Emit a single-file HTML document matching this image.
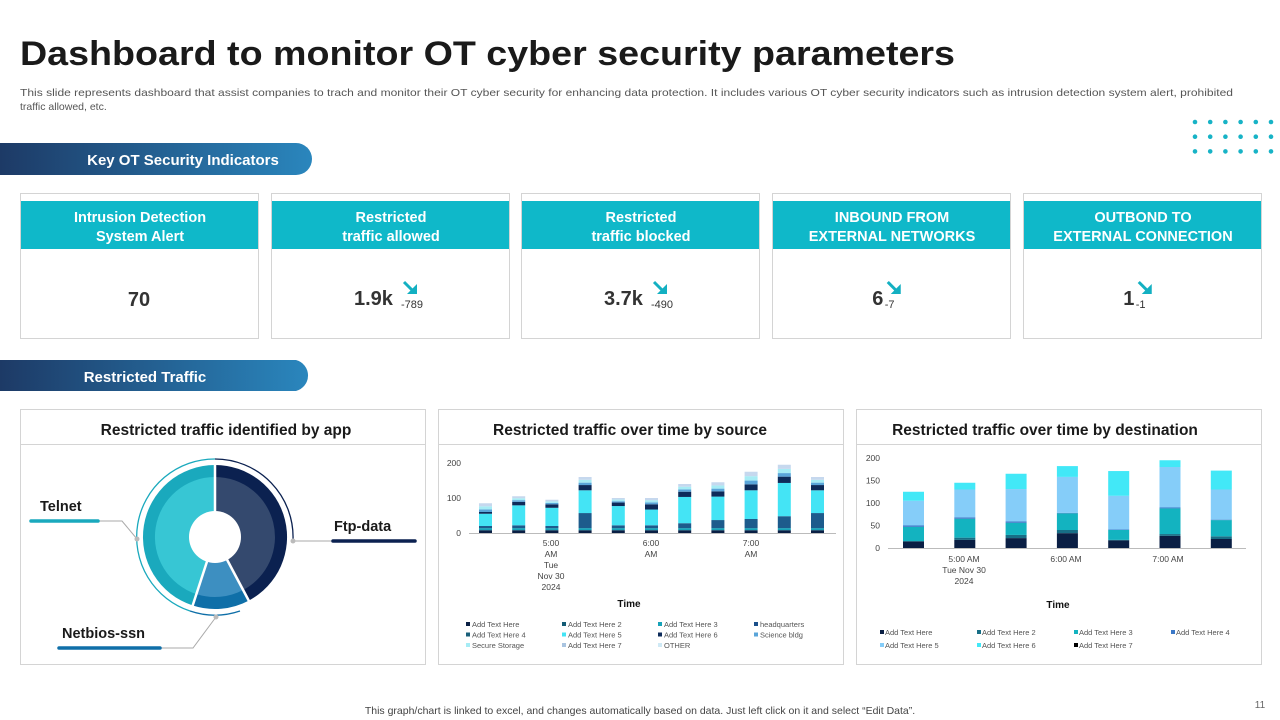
<!DOCTYPE html>
<html><head><meta charset="utf-8"><style>
html,body{margin:0;padding:0;background:#fff;}
svg{display:block;font-family:"Liberation Sans",sans-serif;}
</style></head><body>
<svg id="s" width="1280" height="720" viewBox="0 0 1280 720" xmlns="http://www.w3.org/2000/svg">
<defs>
<linearGradient id="bg" x1="0" x2="1" y1="0" y2="0"><stop offset="0" stop-color="#1d3a66"/><stop offset="1" stop-color="#2a86bd"/></linearGradient>
</defs>
<text x="20" y="65" font-size="34" font-weight="bold" fill="#1a1a1a" textLength="935" lengthAdjust="spacingAndGlyphs">Dashboard to monitor OT cyber security parameters</text>
<text x="20" y="96" font-size="10.5" fill="#555" textLength="1213" lengthAdjust="spacingAndGlyphs">This slide represents dashboard that assist companies to trach and monitor their OT cyber security for enhancing data protection. It includes various OT cyber security indicators such as intrusion detection system alert, prohibited</text>
<text x="20" y="110" font-size="10.5" fill="#555">traffic allowed, etc.</text>
<g id="dots" fill="#17b3c6"></g>

<path d="M0 143 H296 A16 16 0 0 1 296 175 H0 Z" fill="url(#bg)"/>
<text x="183" y="165" font-size="15" font-weight="bold" fill="#fff" text-anchor="middle">Key OT Security Indicators</text>
<path d="M0 360 H296 A16 16 0 0 1 296 391 H0 Z" fill="url(#bg)"/>
<text x="145" y="382" font-size="15" font-weight="bold" fill="#fff" text-anchor="middle">Restricted  Traffic</text>

<g id="cards"></g>

<g fill="#fff" stroke="#d4d4d4" stroke-width="1">
<rect x="20.5" y="409.5" width="405" height="255"/>
<rect x="438.5" y="409.5" width="405" height="255"/>
<rect x="856.5" y="409.5" width="405" height="255"/>
</g>
<g stroke="#d4d4d4"><line x1="21" y1="444.5" x2="425" y2="444.5"/><line x1="439" y1="444.5" x2="843" y2="444.5"/><line x1="857" y1="444.5" x2="1261" y2="444.5"/></g>
<g font-size="15.5" font-weight="bold" fill="#1a1a1a" text-anchor="middle">
<text x="226" y="435">Restricted  traffic  identified  by  app</text>
<text x="630" y="435">Restricted  traffic  over  time  by  source</text>
<text x="1045" y="435">Restricted  traffic  over  time  by  destination</text>
</g>

<g>
<path d="M215 537 L215 465 A72 72 0 0 1 248.8 600.6 Z" fill="#0b2150"/>
<path d="M215 537 L248.8 600.6 A72 72 0 0 1 192.8 605.5 Z" fill="#0f6fa8"/>
<path d="M215 537 L192.8 605.5 A72 72 0 0 1 215 465 Z" fill="#1aa9bd"/>
<path d="M215 537 L215 477 A60 60 0 0 1 243.1 590 Z" fill="#34496e"/>
<path d="M215 537 L243.1 590 A60 60 0 0 1 196.5 594.1 Z" fill="#3d8fc1"/>
<path d="M215 537 L196.5 594.1 A60 60 0 0 1 215 477 Z" fill="#37c6d4"/>
<g stroke="#fff" stroke-width="2.5"><line x1="215" y1="537" x2="215" y2="463"/><line x1="215" y1="537" x2="249.5" y2="602"/><line x1="215" y1="537" x2="192.2" y2="607"/></g>
<circle cx="215" cy="537" r="26" fill="#fff"/>
<path d="M215 459 A78 78 0 0 1 293 540" fill="none" stroke="#0b2150" stroke-width="1.3"/>
<path d="M190 611 A78 78 0 0 1 215 459" fill="none" stroke="#1aa9bd" stroke-width="1.3"/>
<path d="M190 611 A78 78 0 0 0 240 611" fill="none" stroke="#0f6fa8" stroke-width="1.3"/>
<g stroke="#aaa" fill="none" stroke-width="1"><polyline points="98,521 122,521 137,539"/><polyline points="293,541 332,541"/><polyline points="216,617 193,648 160,648"/></g>
<g fill="#bbb"><circle cx="137" cy="539" r="2.5"/><circle cx="293" cy="541" r="2.5"/><circle cx="216" cy="617" r="2.5"/></g>
<g stroke-linecap="round" stroke-width="3.5"><line x1="31" y1="521" x2="98" y2="521" stroke="#1aa9bd"/><line x1="333" y1="541" x2="415" y2="541" stroke="#0b2150"/><line x1="59" y1="648" x2="160" y2="648" stroke="#0f6fa8"/></g>
<g font-size="14.5" font-weight="bold" fill="#1a1a1a"><text x="40" y="511">Telnet</text><text x="334" y="531">Ftp-data</text><text x="62" y="638">Netbios-ssn</text></g>
</g>

<g font-size="8.5" fill="#444">
<text x="461" y="466" text-anchor="end">200</text><text x="461" y="501" text-anchor="end">100</text><text x="461" y="536" text-anchor="end">0</text>
<g text-anchor="middle"><text x="551" y="546">5:00</text><text x="551" y="557">AM</text><text x="551" y="568">Tue</text><text x="551" y="579">Nov 30</text><text x="551" y="590">2024</text>
<text x="651" y="546">6:00</text><text x="651" y="557">AM</text><text x="751" y="546">7:00</text><text x="751" y="557">AM</text></g>
<text x="629" y="607" font-size="10" font-weight="bold" fill="#111" text-anchor="middle">Time</text>
</g>
<line x1="469" y1="533.5" x2="836" y2="533.5" stroke="#bbb"/>
<g id="src"></g>
<g id="srcleg" font-size="7.5" fill="#555"></g>

<g font-size="8.5" fill="#444">
<g text-anchor="end"><text x="880" y="461">200</text><text x="880" y="483.5">150</text><text x="880" y="506">100</text><text x="880" y="528.5">50</text><text x="880" y="551">0</text></g>
<g text-anchor="middle"><text x="964" y="562">5:00 AM</text><text x="964" y="573">Tue Nov 30</text><text x="964" y="584">2024</text><text x="1066" y="562">6:00 AM</text><text x="1168" y="562">7:00 AM</text></g>
<text x="1058" y="608" font-size="10" font-weight="bold" fill="#111" text-anchor="middle">Time</text>
</g>
<line x1="888" y1="548.5" x2="1246" y2="548.5" stroke="#bbb"/>
<g id="dst"></g>
<g id="dstleg" font-size="7.5" fill="#555"></g>

<text x="640" y="714" font-size="10.5" fill="#444" text-anchor="middle">This graph/chart is linked to excel,  and changes automatically based on data. Just left click on it and select “Edit Data”.</text>
<text x="1260" y="708" font-size="10" fill="#666" text-anchor="middle">11</text>
</svg>
<script>
var NS="http://www.w3.org/2000/svg";
function el(p,t,a,txt){var e=document.createElementNS(NS,t);for(var k in a)e.setAttribute(k,a[k]);if(txt!=null)e.textContent=txt;document.getElementById(p).appendChild(e);return e;}
for(var r=0;r<3;r++)for(var c=0;c<6;c++)el("dots","circle",{cx:1195+c*15.2,cy:122+r*14.7,r:2.3});
var cards=[[20,"Intrusion Detection","System Alert","70",""],[271,"Restricted","traffic allowed","1.9k","-789"],[521,"Restricted","traffic blocked","3.7k","-490"],[772,"INBOUND FROM","EXTERNAL NETWORKS","6","-7"],[1023,"OUTBOND TO","EXTERNAL CONNECTION","1","-1"]];
cards.forEach(function(c){var x=c[0],w=238;
el("cards","rect",{x:x+.5,y:193.5,width:w,height:145,fill:"#fff",stroke:"#d4d4d4"});
el("cards","rect",{x:x+1,y:201,width:w-1,height:48,fill:"#0fb8c9"});
el("cards","text",{x:x+w/2+1,y:222,"font-size":14.5,"font-weight":"bold",fill:"#fff","text-anchor":"middle"},c[1]);
el("cards","text",{x:x+w/2+1,y:241,"font-size":14.5,"font-weight":"bold",fill:"#fff","text-anchor":"middle"},c[2]);
var cx=x+w/2;
if(!c[4]){el("cards","text",{x:cx,y:306,"font-size":20,"font-weight":"bold",fill:"#333","text-anchor":"middle"},c[3]);}
else{var tw=c[3].length*11.5;var sx=cx-(tw+22)/2-2;
el("cards","text",{x:sx,y:305,"font-size":20,"font-weight":"bold",fill:"#333"},c[3]);
var ax=sx+tw+1;
el("cards","text",{x:ax,y:308,"font-size":11,fill:"#333"},c[4]);
var bx=ax+3;el("cards","path",{d:"M"+bx+" 282 L"+(bx+9)+" 291",stroke:"#13b0c2","stroke-width":3,fill:"none"});
el("cards","path",{d:"M"+(bx+3)+" 294 L"+(bx+13)+" 294 L"+(bx+13)+" 284 Z",fill:"#13b0c2"});}
});
var sd=[[20,35,5,25],[22,57,10,16],[20,52,10,13],[57,65,15,23],[22,55,10,13],[22,45,15,18],[28,75,15,22],[37,67,15,26],[40,82,17,36],[48,95,18,34],[57,65,15,23]];
sd.forEach(function(b,i){var cx=485.5+i*33.2,y=533,k=0.35;
var segs=[[8,"#0a1f44"],[6,"#17a2b8"],[b[0]-14,"#1d5b8c"],[b[1],"#44e4f5"],[b[2],"#0d2b5a"],[b[3]*0.3,"#5aa5d9"],[b[3]*0.35,"#a6ecf5"],[b[3]*0.35,"#c6d8ee"]];
segs.forEach(function(s){var h=s[0]*k;y-=h;el("src","rect",{x:cx-6.5,y:y,width:13,height:h,fill:s[1]});});});
var sl=[["Add Text Here","#0a1f44"],["Add Text Here 2","#135b75"],["Add Text Here 3","#17a2b8"],["headquarters","#1b4f8a"],["Add Text Here 4","#1a5f7a"],["Add Text Here 5","#44e4f5"],["Add Text Here 6","#0d2b5a"],["Science bldg","#5aa5d9"],["Secure Storage","#a6ecf5"],["Add Text Here 7","#a9c4e0"],["OTHER","#cfe9f5"]];
sl.forEach(function(l,i){var x=466+(i%4)*96,y=627+Math.floor(i/4)*10.5;el("srcleg","rect",{x:x,y:y-5,width:4,height:4,fill:l[1]});el("srcleg","text",{x:x+6,y:y},l[0]);});
var dd=[[15,0,32,3,55,20],[18,5,42,3,62,15],[22,7,27,3,72,34],[33,7,37,1,80,24],[17,1,22,1,75,55],[27,4,57,2,90,15],[20,6,36,1,67,42]];
var dc=["#0a1f44","#176e86","#13b3c0","#3b78c7","#85cdf9","#42e8f7"];
dd.forEach(function(b,i){var cx=913.5+i*51.3,y=548,k=0.45;b.forEach(function(v,j){var h=v*k;y-=h;el("dst","rect",{x:cx-10.5,y:y,width:21,height:h,fill:dc[j]});});});
var dl=[["Add Text Here","#0a1f44"],["Add Text Here 2","#176e86"],["Add Text Here 3","#13b3c0"],["Add Text Here 4","#3b78c7"],["Add Text Here 5","#85cdf9"],["Add Text Here 6","#42e8f7"],["Add Text Here 7","#000"]];
dl.forEach(function(l,i){var x=880+(i%4)*97,y=635+Math.floor(i/4)*13;el("dstleg","rect",{x:x,y:y-5,width:4,height:4,fill:l[1]});el("dstleg","text",{x:x+5,y:y},l[0]);});
</script>
</body></html>
